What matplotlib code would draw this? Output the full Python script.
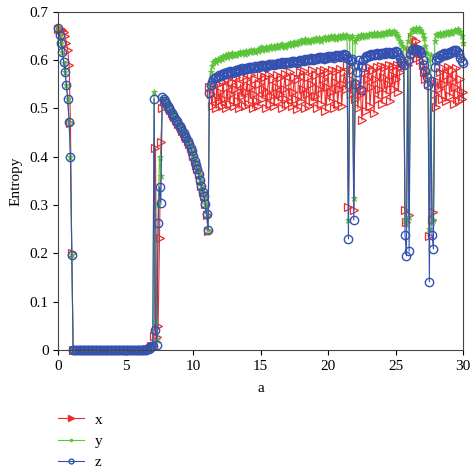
import numpy as np
import matplotlib
matplotlib.use("Agg")
import matplotlib.pyplot as plt
from matplotlib.lines import Line2D

plt.rcParams['font.family'] = ['Liberation Serif', 'DejaVu Serif']
plt.rcParams['font.size'] = 11

# sampling grid of the parameter a (step 0.1)
a = np.linspace(0, 30, 301)

# one row per unit of a (a = N.0 ... N.9), last entry is a = 30.0
zeros10 = [0.0, 0.0, 0.0, 0.0, 0.0, 0.0, 0.0, 0.0, 0.0, 0.0]

arc_8 = [0.511, 0.506, 0.501, 0.496, 0.491, 0.486, 0.482, 0.477, 0.473, 0.468]
arc_9 = [0.464, 0.459, 0.454, 0.449, 0.444, 0.439, 0.433, 0.426, 0.419, 0.411]
arc_10 = [0.402, 0.392, 0.383, 0.374, 0.365, 0.352, 0.339, 0.328, 0.318, 0.302]

ent_x = (
    [0.665, 0.665, 0.665, 0.663, 0.658, 0.649, 0.636, 0.621, 0.590, 0.470]
    + [0.200, 0.0, 0.0, 0.0, 0.0, 0.0, 0.0, 0.0, 0.0, 0.0]
    + zeros10 + zeros10 + zeros10 + zeros10
    + [0.0, 0.0, 0.0, 0.0, 0.0, 0.001, 0.002, 0.003, 0.005, 0.008]
    + [0.008, 0.030, 0.418, 0.027, 0.050, 0.232, 0.430, 0.500, 0.515, 0.512]
    + arc_8 + arc_9 + arc_10
    + [0.280, 0.246, 0.545, 0.530, 0.505, 0.545, 0.520, 0.500, 0.550, 0.515]
    + [0.535, 0.505, 0.555, 0.520, 0.500, 0.545, 0.560, 0.510, 0.530, 0.555]
    + [0.505, 0.540, 0.565, 0.515, 0.500, 0.550, 0.525, 0.565, 0.505, 0.535]
    + [0.560, 0.510, 0.545, 0.570, 0.500, 0.530, 0.560, 0.515, 0.505, 0.550]
    + [0.570, 0.520, 0.540, 0.565, 0.500, 0.535, 0.570, 0.510, 0.525, 0.560]
    + [0.505, 0.545, 0.570, 0.515, 0.530, 0.565, 0.500, 0.540, 0.572, 0.520]
    + [0.510, 0.555, 0.575, 0.505, 0.535, 0.565, 0.520, 0.498, 0.560, 0.575]
    + [0.515, 0.540, 0.578, 0.500, 0.530, 0.565, 0.505, 0.550, 0.580, 0.515]
    + [0.525, 0.570, 0.500, 0.540, 0.578, 0.510, 0.560, 0.580, 0.495, 0.545]
    + [0.575, 0.515, 0.535, 0.580, 0.500, 0.555, 0.578, 0.510, 0.540, 0.582]
    + [0.505, 0.550, 0.575, 0.540, 0.590, 0.297, 0.560, 0.530, 0.580, 0.290]
    + [0.520, 0.555, 0.500, 0.545, 0.530, 0.476, 0.540, 0.575, 0.495, 0.560]
    + [0.585, 0.505, 0.545, 0.580, 0.490, 0.560, 0.585, 0.520, 0.540, 0.588]
    + [0.510, 0.565, 0.585, 0.530, 0.550, 0.590, 0.515, 0.570, 0.588, 0.540]
    + [0.560, 0.590, 0.535, 0.575, 0.585, 0.595, 0.600, 0.290, 0.265, 0.590]
    + [0.280, 0.620, 0.645, 0.610, 0.630, 0.640, 0.605, 0.625, 0.600, 0.615]
    + [0.590, 0.575, 0.560, 0.580, 0.550, 0.235, 0.555, 0.270, 0.286, 0.530]
    + [0.504, 0.556, 0.540, 0.575, 0.520, 0.584, 0.550, 0.515, 0.570, 0.585]
    + [0.525, 0.560, 0.580, 0.510, 0.545, 0.584, 0.530, 0.515, 0.560, 0.520]
    + [0.535]
)

ent_y = (
    [0.666, 0.651, 0.635, 0.616, 0.595, 0.575, 0.548, 0.519, 0.471, 0.399]
    + [0.197, 0.0, 0.0, 0.0, 0.0, 0.0, 0.0, 0.0, 0.0, 0.0]
    + zeros10 + zeros10 + zeros10 + zeros10
    + [0.0, 0.0, 0.0, 0.0, 0.0, 0.001, 0.002, 0.003, 0.005, 0.008]
    + [0.010, 0.535, 0.060, 0.020, 0.300, 0.400, 0.360, 0.522, 0.519, 0.515]
    + arc_8 + arc_9 + arc_10
    + [0.282, 0.248, 0.545, 0.575, 0.588, 0.596, 0.600, 0.597, 0.603, 0.601]
    + [0.605, 0.603, 0.608, 0.606, 0.610, 0.607, 0.613, 0.609, 0.611, 0.614]
    + [0.610, 0.613, 0.611, 0.615, 0.612, 0.616, 0.614, 0.617, 0.613, 0.618]
    + [0.615, 0.619, 0.616, 0.620, 0.618, 0.621, 0.617, 0.622, 0.619, 0.623]
    + [0.628, 0.622, 0.626, 0.623, 0.627, 0.624, 0.628, 0.625, 0.629, 0.626]
    + [0.630, 0.627, 0.631, 0.628, 0.632, 0.629, 0.633, 0.630, 0.628, 0.632]
    + [0.634, 0.631, 0.635, 0.632, 0.636, 0.638, 0.634, 0.637, 0.635, 0.638]
    + [0.642, 0.637, 0.640, 0.643, 0.639, 0.641, 0.638, 0.642, 0.640, 0.644]
    + [0.641, 0.645, 0.642, 0.646, 0.643, 0.640, 0.645, 0.643, 0.647, 0.644]
    + [0.648, 0.645, 0.649, 0.646, 0.650, 0.647, 0.644, 0.649, 0.646, 0.650]
    + [0.647, 0.651, 0.648, 0.652, 0.649, 0.270, 0.648, 0.645, 0.650, 0.315]
    + [0.640, 0.645, 0.650, 0.647, 0.651, 0.648, 0.652, 0.649, 0.653, 0.650]
    + [0.654, 0.651, 0.655, 0.652, 0.656, 0.653, 0.657, 0.654, 0.652, 0.656]
    + [0.653, 0.657, 0.655, 0.659, 0.656, 0.660, 0.657, 0.659, 0.656, 0.660]
    + [0.657, 0.653, 0.648, 0.640, 0.635, 0.630, 0.625, 0.270, 0.260, 0.640]
    + [0.275, 0.655, 0.662, 0.665, 0.661, 0.666, 0.663, 0.667, 0.662, 0.660]
    + [0.655, 0.645, 0.630, 0.615, 0.600, 0.250, 0.610, 0.265, 0.270, 0.640]
    + [0.652, 0.655, 0.651, 0.656, 0.653, 0.657, 0.654, 0.658, 0.655, 0.659]
    + [0.656, 0.660, 0.657, 0.661, 0.663, 0.660, 0.664, 0.661, 0.658, 0.650]
    + [0.636]
)

ent_z = (
    [0.667, 0.652, 0.636, 0.617, 0.596, 0.576, 0.549, 0.520, 0.472, 0.400]
    + [0.197, 0.0, 0.0, 0.0, 0.0, 0.0, 0.0, 0.0, 0.0, 0.0]
    + zeros10 + zeros10 + zeros10 + zeros10
    + [0.0, 0.0, 0.0, 0.0, 0.0, 0.001, 0.002, 0.003, 0.005, 0.008]
    + [0.008, 0.520, 0.041, 0.010, 0.262, 0.338, 0.304, 0.524, 0.520, 0.515]
    + arc_8 + arc_9 + arc_10
    + [0.282, 0.248, 0.532, 0.548, 0.555, 0.560, 0.563, 0.566, 0.565, 0.569]
    + [0.568, 0.571, 0.570, 0.574, 0.572, 0.575, 0.573, 0.577, 0.576, 0.574]
    + [0.578, 0.576, 0.580, 0.578, 0.581, 0.579, 0.583, 0.580, 0.582, 0.584]
    + [0.581, 0.585, 0.583, 0.586, 0.584, 0.583, 0.587, 0.585, 0.588, 0.586]
    + [0.589, 0.587, 0.590, 0.588, 0.586, 0.590, 0.592, 0.589, 0.591, 0.593]
    + [0.590, 0.593, 0.591, 0.595, 0.592, 0.594, 0.596, 0.593, 0.595, 0.597]
    + [0.594, 0.597, 0.595, 0.598, 0.596, 0.599, 0.597, 0.595, 0.599, 0.601]
    + [0.598, 0.601, 0.599, 0.602, 0.600, 0.603, 0.601, 0.604, 0.602, 0.600]
    + [0.603, 0.605, 0.602, 0.606, 0.604, 0.607, 0.605, 0.603, 0.607, 0.605]
    + [0.608, 0.606, 0.609, 0.607, 0.605, 0.609, 0.611, 0.608, 0.610, 0.607]
    + [0.611, 0.609, 0.612, 0.610, 0.605, 0.230, 0.600, 0.598, 0.602, 0.269]
    + [0.550, 0.575, 0.590, 0.600, 0.538, 0.585, 0.600, 0.605, 0.609, 0.607]
    + [0.610, 0.608, 0.612, 0.610, 0.613, 0.611, 0.614, 0.612, 0.610, 0.614]
    + [0.612, 0.615, 0.613, 0.616, 0.614, 0.617, 0.615, 0.613, 0.617, 0.615]
    + [0.618, 0.616, 0.612, 0.605, 0.598, 0.594, 0.590, 0.238, 0.195, 0.600]
    + [0.204, 0.612, 0.620, 0.623, 0.621, 0.624, 0.620, 0.622, 0.618, 0.615]
    + [0.600, 0.590, 0.578, 0.566, 0.549, 0.141, 0.556, 0.238, 0.209, 0.585]
    + [0.600, 0.607, 0.604, 0.610, 0.608, 0.612, 0.614, 0.611, 0.615, 0.613]
    + [0.617, 0.615, 0.619, 0.621, 0.618, 0.620, 0.617, 0.612, 0.605, 0.598]
    + [0.594]
)

red = '#ee2c2c'
green = '#5cc43a'
blue = '#3552b0'

fig = plt.figure(figsize=(4.74, 4.73), dpi=100)
ax = fig.add_axes([0.123, 0.260, 0.854, 0.715])

ax.plot(a, ent_x, color=red, lw=0.8, marker='>', ms=6, mfc='none', mec=red, mew=0.9,
        clip_on=False)
ax.plot(a, ent_y, color=green, lw=0.8, marker='*', ms=5, mfc=green, mec=green, mew=0.6,
        clip_on=False)
ax.plot(a, ent_z, color=blue, lw=0.8, marker='o', ms=6, mfc='none', mec=blue, mew=1.0,
        clip_on=False)

ax.set_xlim(0, 30)
ax.set_ylim(0, 0.7)
ax.set_xticks([0, 5, 10, 15, 20, 25, 30])
ax.set_yticks([0, 0.1, 0.2, 0.3, 0.4, 0.5, 0.6, 0.7])
ax.set_yticklabels(['0', '0.1', '0.2', '0.3', '0.4', '0.5', '0.6', '0.7'])
ax.set_xlabel('a', labelpad=7)
ax.set_ylabel('Entropy', labelpad=5)
for s in ax.spines.values():
    s.set_color('#444444')

handles = [
    Line2D([], [], color=red, lw=0.8, marker='>', ms=4, mfc=red, mec=red),
    Line2D([], [], color=green, lw=0.8, marker='.', ms=3, mfc=green, mec=green),
    Line2D([], [], color=blue, lw=0.8, marker='o', ms=3.5, mfc='none', mec=blue),
]
fig.legend(handles, ['x', 'y', 'z'], loc='upper left', bbox_to_anchor=(0.122, 0.127),
           frameon=False, borderpad=0, borderaxespad=0, handlelength=1.7,
           handletextpad=0.7, labelspacing=0.5)

fig.savefig('out.png', dpi=100)
